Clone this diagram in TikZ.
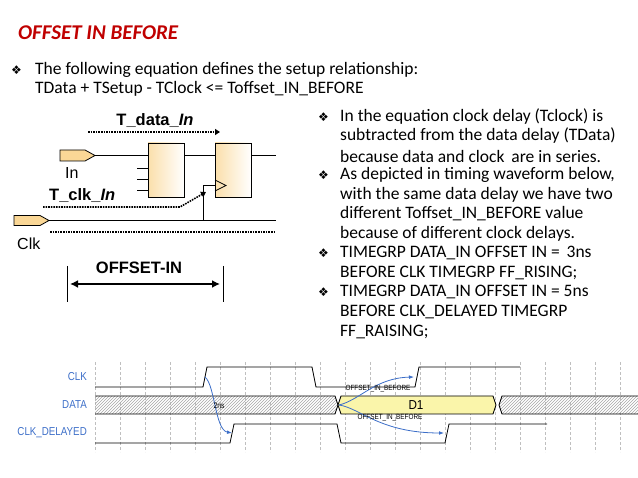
\documentclass[tikz,border=0pt]{standalone}
\usepackage{fontspec}
\setmainfont{Carlito}
\newfontfamily\arialf{Liberation Sans}
\newfontfamily\djv{DejaVu Sans}
\usetikzlibrary{arrows.meta,patterns}
\definecolor{titlered}{RGB}{192,0,0}
\definecolor{sigblue}{RGB}{60,110,200}
\definecolor{padfill}{RGB}{250,215,150}
\definecolor{dyellow}{RGB}{250,245,170}
\begin{document}
\begin{tikzpicture}[x=1pt,y=-1pt,
  txt/.style={anchor=west,inner sep=0pt,font=\fontsize{17.5}{19}\selectfont},
  bulmark/.style={anchor=west,inner sep=0pt,font=\djv\fontsize{12}{14}\selectfont},
  lbl/.style={anchor=west,inner sep=0pt,font=\arialf\fontsize{16}{18}\selectfont},
  blbl/.style={inner sep=0pt,font=\arialf\bfseries\fontsize{16.5}{18}\selectfont},
  ff/.style={draw,thick,left color=padfill!80,right color=white,minimum width=36pt,minimum height=54pt,inner sep=0pt},
  dots/.style={densely dotted,line width=1.6pt},
  sig/.style={font=\arialf\fontsize{11.5}{13}\selectfont,text=sigblue,anchor=east,inner sep=0pt,xscale=0.85},
  wave/.style={line width=0.8pt},
  barr/.style={sigblue,thick,-{Latex[length=5pt]}},
  small/.style={font=\arialf\fontsize{7.5}{8}\selectfont,inner sep=0.5pt,xscale=0.85}]
\useasboundingbox (0,0) rectangle (638,478);
% title and top bullet
\node[anchor=west,inner sep=0pt,text=titlered,font=\bfseries\itshape\fontsize{21}{23}\selectfont] (title) at (18,33) {OFFSET IN BEFORE};
\node[bulmark] (b0) at (11,70) {❖};
\node[txt] (t1) at (35,70) {The following equation defines the setup relationship:};
\node[txt] (t2) at (35,89) {TData + TSetup - TClock <= Toffset\_IN\_BEFORE};
% right bullets
\foreach \y in {117,175,253,292}{\node[bulmark] at (318,\y) {❖};}
\node[txt] (r1) at (340,117) {In the equation clock delay (Tclock) is};
\node[txt] (r2) at (340,136) {subtracted from the data delay (TData)};
\node[txt] (r3) at (340,156) {because data and clock\, are in series.};
\node[txt] (r4) at (340,175) {As depicted in timing waveform below,};
\node[txt] (r5) at (340,195) {with the same data delay we have two};
\node[txt] (r6) at (340,214) {different Toffset\_IN\_BEFORE value};
\node[txt] (r7) at (340,234) {because of different clock delays.};
\node[txt] (r8) at (340,253) {TIMEGRP DATA\_IN OFFSET IN =\, 3ns};
\node[txt] (r9) at (340,273) {BEFORE CLK TIMEGRP FF\_RISING;};
\node[txt] (r10) at (340,292) {TIMEGRP DATA\_IN OFFSET IN = 5ns};
\node[txt] (r11) at (340,312) {BEFORE CLK\_DELAYED TIMEGRP};
\node[txt] (r12) at (340,332) {FF\_RAISING;};
% circuit
\node[blbl] (tdata) at (155,121) {T\_data\_\textit{In}};
\coordinate (td1) at (88,132); \coordinate (td2) at (220,132);
\draw[dots,-{Triangle[length=5pt,width=6pt]}] (td1) -- (td2);
\draw[fill=padfill,thick] (60,150) -- (85,150) -- (95,155.5) -- (85,161) -- (60,161) -- cycle;
\coordinate (inp) at (95,155.5);
\node[lbl] (inl) at (65,173) {In};
\node[ff] (ff1) at (166,170) {};
\node[ff] (ff2) at (233,170) {};
\draw[thick] (inp) -- (inp -| ff1.west);
\foreach \y in {168,179,190}{\draw[thick] (137,\y) -- (148,\y);}
\draw[thick] (ff1.east |- 0,155.5) -- (ff2.west |- 0,155.5);
\draw[thick] (ff2.east |- 0,155.5) -- (276,155.5);
\draw[thick] (215,180) -- (226,185.5) -- (215,191);
\node[blbl,anchor=west] (tclk) at (49,196) {T\_clk\_\textit{In}};
\draw[dots,-{Triangle[length=5pt,width=6pt]}] (43,207) -- (180,207) -- (206,192);
\draw[fill=padfill,thick] (14,215.5) -- (40,215.5) -- (49,220.5) -- (40,225.5) -- (14,225.5) -- cycle;
\coordinate (clkp) at (49,220.5);
\draw[thick] (clkp) -- (276,220.5);
\draw[thick] (203,220.5) -- (203,185.5) -- (215,185.5);
\draw[dots] (50,232) -- (276,232);
\node[lbl] (clkl) at (17,244) {Clk};
\node[blbl] (offin) at (139,268) {OFFSET-IN};
\draw[thick] (67,266) -- (67,302);
\draw[thick] (223,266) -- (223,302);
\draw[line width=2pt,{Latex[length=8pt,width=8pt]}-{Latex[length=8pt,width=8pt]}] (70,284) -- (220,284);
% timing diagram grid
\foreach \x in {95,120,145,170,195,220,245,270,295,320,345,370,395,420,445,470,495,520,545,570,595,620}{\draw[gray!50,densely dashed,line width=0.3pt] (\x,362) -- (\x,452);}
\node[sig] (lclk) at (87,377) {CLK};
\node[sig] (ldata) at (87,405) {DATA};
\node[sig] (lcd) at (87,433) {CLK\_DELAYED};
\draw[wave] (95,387) -- (203,387) -- (207,367) -- (312,367) -- (316,387) -- (415,387) -- (419,367) -- (520,367);
\draw[wave,pattern=north east lines,pattern color=gray!70] (95,396) -- (335,396) -- (338,405) -- (335,414) -- (95,414);
\draw[wave,fill=dyellow] (341,396) -- (493,396) -- (496,405) -- (493,414) -- (341,414) -- (338,405) -- cycle;
\draw[wave,pattern=north east lines,pattern color=gray!70] (638,396) -- (502,396) -- (499,405) -- (502,414) -- (638,414);
\node[font=\arialf\fontsize{13}{14}\selectfont,inner sep=0pt,xscale=0.9] (d1) at (416,405) {D1};
\draw[wave] (95,443) -- (230,443) -- (234,424) -- (337,424) -- (341,443) -- (445,443) -- (449,424) -- (547,424);
\coordinate (cr) at (205,377); \coordinate (cdr) at (232,433);
\coordinate (ds) at (339,405); \coordinate (cr2) at (414,377); \coordinate (cdr2) at (444,433);
\draw[barr] (cr) .. controls (215,385) and (215,430) .. (cdr);
\node[small,font=\arialf\fontsize{8}{9}\selectfont] (ns) at (219,406) {2ns};
\draw[barr] (ds) .. controls (360,400) and (375,378) .. (cr2);
\draw[barr] (ds) .. controls (360,408) and (380,433) .. (cdr2);
\node[small] (o1) at (378,389) {OFFSET\_IN\_BEFORE};
\node[small] (o2) at (390,418) {OFFSET\_IN\_BEFORE};
\end{tikzpicture}
\end{document}
